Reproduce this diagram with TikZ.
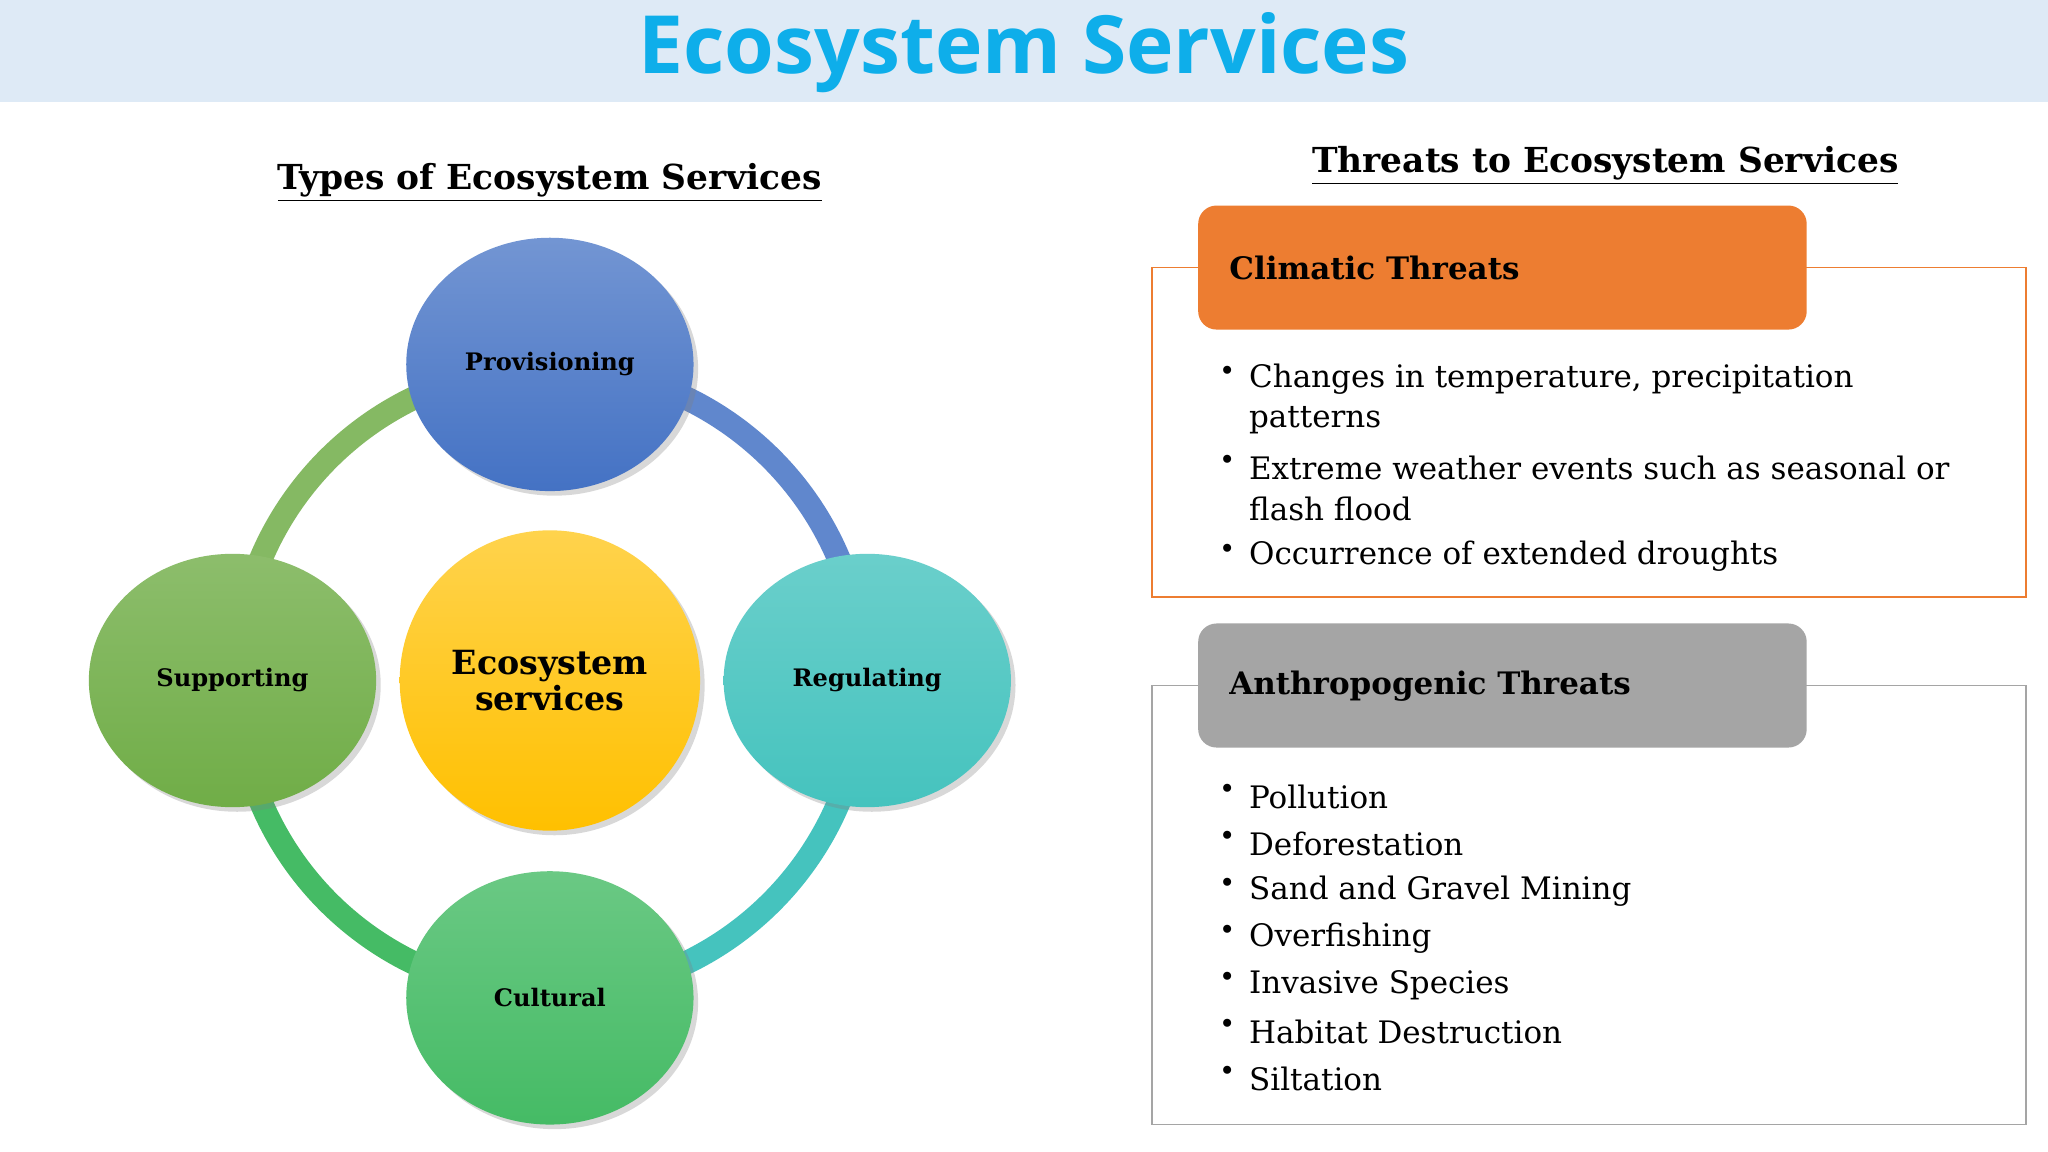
\documentclass[tikz,border=0pt]{standalone}
\usepackage{fontspec}
\setmainfont{DejaVu Serif}
\newfontfamily\titlefont{Open Sans}
\usetikzlibrary{shadows,shapes.geometric}
\definecolor{banner}{HTML}{DEEAF6}
\definecolor{ttl}{HTML}{0EAEEA}
\definecolor{orng}{HTML}{ED7D31}
\definecolor{gry}{HTML}{A5A5A5}
\definecolor{blu}{HTML}{4472C4}
\definecolor{grn}{HTML}{70AD47}
\definecolor{teal}{HTML}{45C3BE}
\definecolor{grn2}{HTML}{45BB65}
\definecolor{yel}{HTML}{FFC000}
\begin{document}
\begin{tikzpicture}[x=0.02cm,y=-0.02cm,
  ell/.style={ellipse,minimum width=4.4cm,minimum height=3.88cm,inner sep=0pt,drop shadow={opacity=0.3,shadow xshift=2pt,shadow yshift=-2pt},font=\bfseries\fontsize{10.5}{12}\selectfont},
  hdr/.style={rounded corners=8pt,anchor=north west,minimum width=9.32cm,minimum height=1.9cm},
  itm/.style={anchor=west,font=\fontsize{13.5}{16}\selectfont,inner sep=0pt},
  bul/.style={anchor=west,font=\fontsize{12}{14}\selectfont,inner sep=0pt},
  arc/.style={line width=0.36cm}]
\useasboundingbox (0,0) rectangle (1568,882);
\fill[white] (0,0) rectangle (1568,882);
\fill[banner] (0,0) rectangle (1568,78);
\node (title) at (784,40) {\titlefont\bfseries\color{ttl}\fontsize{35}{40}\selectfont Ecosystem Services};
\node (ltitle) at (421,140) {\bfseries\fontsize{15}{18}\selectfont\underline{Types of Ecosystem Services}};
\node (rtitle) at (1229,127) {\bfseries\fontsize{15}{18}\selectfont\underline{Threats to Ecosystem Services}};
% ring
\draw[arc,color=grn!85!white] (181,521) arc[start angle=180,end angle=90,radius=4.8cm];
\draw[arc,color=blu!85!white] (421,281) arc[start angle=90,end angle=0,radius=4.8cm];
\draw[arc,color=teal] (661,521) arc[start angle=0,end angle=-90,radius=4.8cm];
\draw[arc,color=grn2] (421,761) arc[start angle=-90,end angle=-180,radius=4.8cm];
\node[ell,top color=blu!75!white,bottom color=blu] (prov) at (421,279) {Provisioning};
\node[ell,top color=grn!80!white,bottom color=grn] (supp) at (178,521) {Supporting};
\node[ell,top color=teal!80!white,bottom color=teal] (reg) at (664,521) {Regulating};
\node[ell,top color=grn2!80!white,bottom color=grn2] (cult) at (421,764) {Cultural};
\node[ell,minimum width=4.6cm,minimum height=4.6cm,top color=yel!70!white,bottom color=yel,align=center,font=\bfseries\fontsize{14.5}{16}\selectfont] (eco) at (421,521) {Ecosystem\\services};
% climatic
\draw[orng,line width=0.6pt] (882,205) rectangle (1551,457);
\node[hdr,fill=orng] (ch) at (917,157) {};
\node[anchor=west,font=\bfseries\fontsize{13.5}{16}\selectfont] (cht) at (935,205) {Climatic Threats};
\foreach \y/\t/\b in {290/{Changes in temperature, precipitation}/1,322/{patterns}/0,358/{Extreme weather events such as seasonal or}/1,390/{flash flood}/0,426/{Occurrence of extended droughts}/1}{
  \node[itm] at (956,\y) {\t};
  \ifnum\b=1 \node[bul] at (933,\y-4) {•};\fi
}
% anthropogenic
\draw[gry,line width=0.6pt] (882,525) rectangle (1551,861);
\node[hdr,fill=gry] (ah) at (917,477) {};
\node[anchor=west,font=\bfseries\fontsize{13.5}{16}\selectfont] (aht) at (935,525) {Anthropogenic Threats};
\foreach \y/\t in {610/Pollution,646/Deforestation,682/Sand and Gravel Mining,718/Overfishing,754/Invasive Species,790/Habitat Destruction,826/Siltation}{
  \node[itm] at (956,\y) {\t};
  \node[bul] at (933,\y-4) {•};
}
\end{tikzpicture}
\end{document}
